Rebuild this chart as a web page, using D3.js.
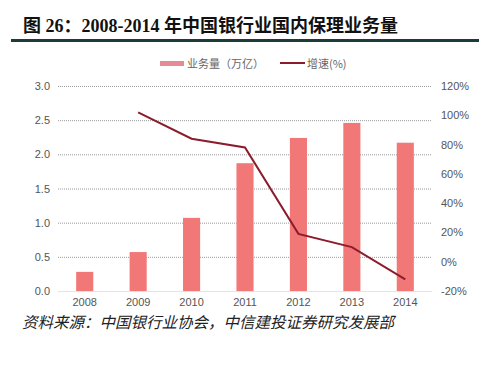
<!DOCTYPE html>
<html>
<head>
<meta charset="utf-8">
<script src="https://cdn.jsdelivr.net/npm/d3@7"></script>
<style>
  body { margin: 0; background: #fff; }
  svg { display: block; }
</style>
</head>
<body>
<div id="chart"></div>
<script>
// data
const years = ["2008", "2009", "2010", "2011", "2012", "2013", "2014"];
const volume = [0.28, 0.57, 1.07, 1.87, 2.24, 2.46, 2.17];     // 万亿
const growth = [null, 102, 84, 78, 19, 10, -12];               // %
const leftTicks = [0, 0.5, 1.0, 1.5, 2.0, 2.5, 3.0];
const rightTicks = [-20, 0, 20, 40, 60, 80, 100, 120];

const W = 491, H = 365;
const margin = { top: 86, right: 59, bottom: 74, left: 58 };

const svg = d3.select("#chart").append("svg")
    .attr("width", W)
    .attr("height", H);

// title + rule
svg.append("text")
    .attr("x", 23)
    .attr("y", 32)
    .style("font-family", "'Liberation Serif', 'Noto Sans CJK SC', serif")
    .style("font-weight", "bold")
    .style("font-size", "18px")
    .style("fill", "#111")
    .text("图 26：2008-2014 年中国银行业国内保理业务量");

svg.append("rect")
    .attr("x", 11).attr("y", 39)
    .attr("width", 468).attr("height", 3)
    .attr("fill", "#1e3b3b");

const x = d3.scaleBand()
    .domain(years)
    .range([margin.left, W - margin.right])
    .paddingInner(0.68)
    .paddingOuter(0.34);

const yL = d3.scaleLinear().domain([0, 3]).range([H - margin.bottom, margin.top]);
const yR = d3.scaleLinear().domain([-20, 120]).range([H - margin.bottom, margin.top]);

const labelFont = "'Liberation Sans', Arial, sans-serif";

// gridlines
svg.append("g")
    .selectAll("line")
    .data(leftTicks)
    .join("line")
    .attr("x1", margin.left)
    .attr("x2", W - margin.right)
    .attr("y1", d => yL(d) + 0.5)
    .attr("y2", d => yL(d) + 0.5)
    .attr("stroke", d => d === 0 ? "#e4e4e4" : "#999")
    .attr("stroke-width", 1)
    .attr("stroke-dasharray", d => d === 0 ? null : "1,1");

// left axis labels
svg.append("g")
    .selectAll("text")
    .data(leftTicks)
    .join("text")
    .attr("x", 50)
    .attr("y", d => yL(d) + 4)
    .attr("text-anchor", "end")
    .style("font-family", labelFont)
    .style("font-size", "11px")
    .style("fill", "#555")
    .text(d => d.toFixed(1));

// right axis labels
svg.append("g")
    .selectAll("text")
    .data(rightTicks)
    .join("text")
    .attr("x", 441)
    .attr("y", d => yR(d) + 4)
    .style("font-family", labelFont)
    .style("font-size", "11px")
    .style("fill", "#555")
    .text(d => d + "%");

// x labels
svg.append("g")
    .selectAll("text")
    .data(years)
    .join("text")
    .attr("x", d => x(d) + x.bandwidth() / 2)
    .attr("y", 306)
    .attr("text-anchor", "middle")
    .style("font-family", labelFont)
    .style("font-size", "11px")
    .style("fill", "#555")
    .text(d => d);

// bars
svg.append("g")
    .selectAll("rect")
    .data(years.map((yr, i) => ({ yr, v: volume[i] })))
    .join("rect")
    .attr("x", d => x(d.yr))
    .attr("width", x.bandwidth())
    .attr("y", d => yL(d.v))
    .attr("height", d => yL(0) - yL(d.v))
    .attr("fill", "#f27878");

// growth line
const line = d3.line()
    .defined(d => d.g !== null)
    .x(d => x(d.yr) + x.bandwidth() / 2)
    .y(d => yR(d.g));

svg.append("path")
    .datum(years.map((yr, i) => ({ yr, g: growth[i] })))
    .attr("d", line)
    .attr("fill", "none")
    .attr("stroke", "#8c1c2c")
    .attr("stroke-width", 2);

// legend
const legend = svg.append("g").style("font-family", "'Noto Sans CJK SC', sans-serif")
    .style("font-size", "11px").style("fill", "#666");
legend.append("rect").attr("x", 160).attr("y", 61).attr("width", 24).attr("height", 5).attr("fill", "#e58a96");
legend.append("text").attr("x", 187).attr("y", 68).text("业务量（万亿）");
legend.append("rect").attr("x", 280).attr("y", 62).attr("width", 25).attr("height", 2).attr("fill", "#8c1c2c");
legend.append("text").attr("x", 307).attr("y", 68).text("增速(%)");

// source
svg.append("text")
    .attr("x", 22)
    .attr("y", 328)
    .style("font-family", "'Noto Sans CJK SC', serif")
    .style("font-style", "italic")
    .style("font-size", "15.5px")
    .style("fill", "#222")
    .text("资料来源：中国银行业协会，中信建投证券研究发展部");
</script>
</body>
</html>
